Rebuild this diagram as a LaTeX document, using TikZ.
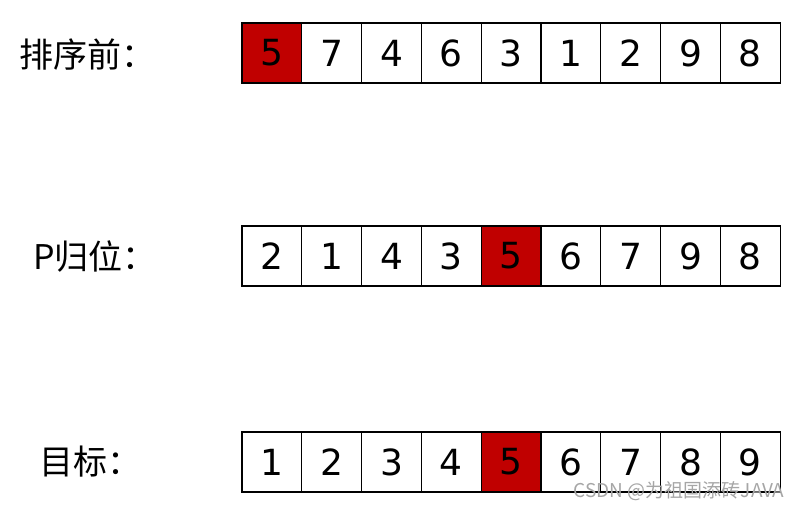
\documentclass[tikz,border=0pt]{standalone}
\usepackage{fontspec}
\setmainfont{DejaVu Sans}
\newfontfamily\cjk{Noto Sans CJK SC}
\usepackage{tikz}

\definecolor{pivotred}{HTML}{C00000}
\tikzset{
  cell/.style={draw=black, line width=1.3pt, minimum width=59.8pt, minimum height=59.8pt,
    inner sep=0pt, font=\fontsize{36}{36}\selectfont},
  pivot/.style={cell, fill=pivotred},
  rowlabel/.style={anchor=west, inner sep=0pt, font=\cjk\fontsize{34}{34}\selectfont}
}

\begin{document}
\begin{tikzpicture}[x=1pt,y=-1pt]
			\useasboundingbox (0,0) rectangle (803,511);

			% row labels
			\node[rowlabel] (before) at (19,55) {排序前：};
			\node[rowlabel] (placed) at (33,257) {P归位：};
			\node[rowlabel] (target) at (39,462) {目标：};

			% before sorting
			\foreach \v [count=\i] in {5,7,4,6,3,1,2,9,8} {
				\ifnum\v=5 \def\sty{pivot}\else\def\sty{cell}\fi
				\node[\sty] (a\i) at ({242+59.8*(\i-0.5)},53) {\v};
			}

			% pivot in place
			\foreach \v [count=\i] in {2,1,4,3,5,6,7,9,8} {
				\ifnum\v=5 \def\sty{pivot}\else\def\sty{cell}\fi
				\node[\sty] (b\i) at ({242+59.8*(\i-0.5)},256) {\v};
			}

			% goal
			\foreach \v [count=\i] in {1,2,3,4,5,6,7,8,9} {
				\ifnum\v=5 \def\sty{pivot}\else\def\sty{cell}\fi
				\node[\sty] (c\i) at ({242+59.8*(\i-0.5)},462) {\v};
			}

			\node[anchor=east, text=black!35, font=\cjk\fontsize{19}{19}\selectfont] (wm) at (788,491) {CSDN @为祖国添砖JAVA};
		\end{tikzpicture}
\end{document}
